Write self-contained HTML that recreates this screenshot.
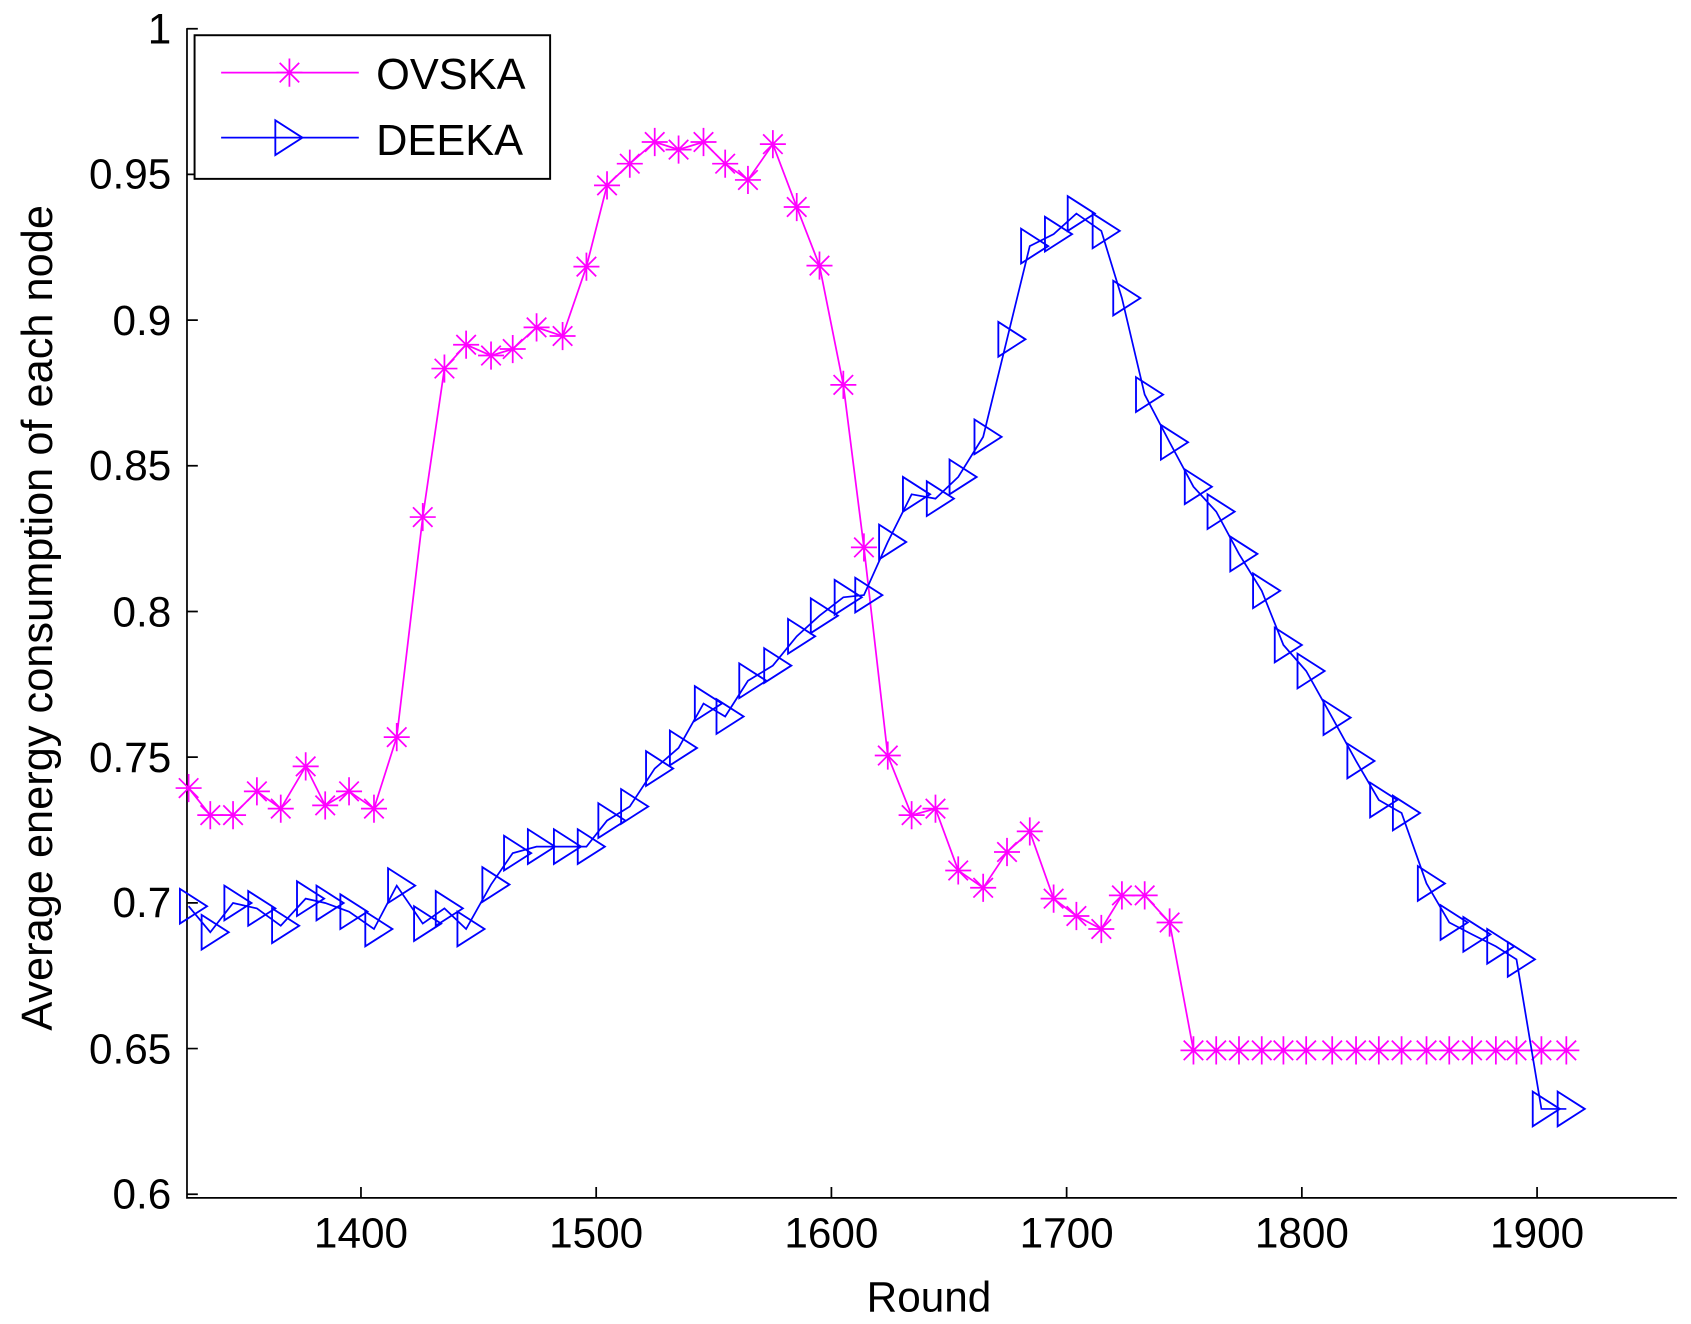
<!DOCTYPE html>
<html><head><meta charset="utf-8"><style>html,body{margin:0;padding:0;background:#fff}svg{display:block}</style></head>
<body>
<svg width="1691" height="1324" viewBox="0 0 1560 1221.4" preserveAspectRatio="none" xmlns="http://www.w3.org/2000/svg" font-family="Liberation Sans, Arial, sans-serif">
<defs>
<g id="st" stroke="#ff00ff" stroke-width="1.6" fill="none"><path d="M-12 0H12M0 -13V13M-9 -9L9 9M-9 9L9 -9"/></g>
<g id="tr" stroke="#0000ff" stroke-width="1.7" fill="none"><path d="M-8 -16L17 0L-8 16Z"/></g>
</defs>
<g stroke="#000" stroke-width="1.6" fill="none">
<path d="M172.5 26V1105H1547"/>
<path d="M172.5 26.5h10M172.5 160.9h10M172.5 295.3h10M172.5 429.7h10M172.5 564.1h10M172.5 698.5h10M172.5 832.9h10M172.5 967.3h10M172.5 1101.7h10"/>
<path d="M333 1105v-10M550 1105v-10M767 1105v-10M984 1105v-10M1201 1105v-10M1418 1105v-10"/>
</g>
<g font-size="39" fill="#000" text-anchor="end">
<text x="158" y="40">1</text><text x="158" y="174">0.95</text><text x="158" y="309">0.9</text><text x="158" y="443">0.85</text><text x="158" y="578">0.8</text><text x="158" y="712">0.75</text><text x="158" y="846">0.7</text><text x="158" y="981">0.65</text><text x="158" y="1115">0.6</text>
</g>
<g font-size="39" fill="#000" text-anchor="middle">
<text x="333" y="1151">1400</text><text x="550" y="1151">1500</text><text x="767" y="1151">1600</text><text x="984" y="1151">1700</text><text x="1201" y="1151">1800</text><text x="1418" y="1151">1900</text>
<text x="857" y="1210">Round</text>
<text transform="translate(48 570) rotate(-90)" font-size="40">Average energy consumption of each node</text>
</g>
<polyline fill="none" stroke="#ff00ff" stroke-width="1.6" points="174,727 194,752 215,752 237,730 259,746 282,707 300,743 322,730 345,746 366,680 390,477 410,340 430,318 453,328 473,322 495,302 519,310 541,246 560,171 581,151 604,131 626,138 649,131 669,151 690,166 713,133 735,191 756,245 778,355 797,505 819,697 841,752 863,746 884,803 907,819 929,786 950,767 972,829 993,845 1016,857 1035,826 1056,826 1079,851 1101,969 1445,969"/>
<g>
<use href="#st" x="174" y="727"/><use href="#st" x="194" y="752"/><use href="#st" x="215" y="752"/><use href="#st" x="237" y="730"/><use href="#st" x="259" y="746"/><use href="#st" x="282" y="707"/><use href="#st" x="300" y="743"/><use href="#st" x="322" y="730"/><use href="#st" x="345" y="746"/><use href="#st" x="366" y="680"/><use href="#st" x="390" y="477"/><use href="#st" x="410" y="340"/><use href="#st" x="430" y="318"/><use href="#st" x="453" y="328"/><use href="#st" x="473" y="322"/><use href="#st" x="495" y="302"/><use href="#st" x="519" y="310"/><use href="#st" x="541" y="246"/><use href="#st" x="560" y="171"/><use href="#st" x="581" y="151"/><use href="#st" x="604" y="131"/><use href="#st" x="626" y="138"/><use href="#st" x="649" y="131"/><use href="#st" x="669" y="151"/><use href="#st" x="690" y="166"/><use href="#st" x="713" y="133"/><use href="#st" x="735" y="191"/><use href="#st" x="756" y="245"/><use href="#st" x="778" y="355"/><use href="#st" x="797" y="505"/><use href="#st" x="819" y="697"/><use href="#st" x="841" y="752"/><use href="#st" x="863" y="746"/><use href="#st" x="884" y="803"/><use href="#st" x="907" y="819"/><use href="#st" x="929" y="786"/><use href="#st" x="950" y="767"/><use href="#st" x="972" y="829"/><use href="#st" x="993" y="845"/><use href="#st" x="1016" y="857"/><use href="#st" x="1035" y="826"/><use href="#st" x="1056" y="826"/><use href="#st" x="1079" y="851"/><use href="#st" x="1101" y="969"/><use href="#st" x="1122" y="969"/><use href="#st" x="1143" y="969"/><use href="#st" x="1164" y="969"/><use href="#st" x="1184" y="969"/><use href="#st" x="1205" y="969"/><use href="#st" x="1229" y="969"/><use href="#st" x="1251" y="969"/><use href="#st" x="1272" y="969"/><use href="#st" x="1293" y="969"/><use href="#st" x="1316" y="969"/><use href="#st" x="1337" y="969"/><use href="#st" x="1358" y="969"/><use href="#st" x="1380" y="969"/><use href="#st" x="1399" y="969"/><use href="#st" x="1422" y="969"/><use href="#st" x="1445" y="969"/>
</g>
<polyline fill="none" stroke="#0000ff" stroke-width="1.6" points="174,836 194,860 215,833 237,838 259,854 282,829 300,833 322,841 345,857 366,817 390,852 410,838 430,857 453,816 473,787 495,781 519,781 541,781 560,757 581,744 604,709 626,690 649,649 669,661 690,628 713,614 735,587 756,568 778,551 797,549 819,500 841,456 863,460 884,440 907,403 929,313 950,227 972,216 993,197 1016,213 1035,275 1056,364 1079,408 1101,449 1122,472 1143,511 1164,545 1184,595 1205,619 1229,662 1251,702 1272,738 1293,750 1316,815 1337,851 1358,862 1380,873 1399,885 1422,1023 1445,1023"/>
<g>
<use href="#tr" x="174" y="836"/><use href="#tr" x="194" y="860"/><use href="#tr" x="215" y="833"/><use href="#tr" x="237" y="838"/><use href="#tr" x="259" y="854"/><use href="#tr" x="282" y="829"/><use href="#tr" x="300" y="833"/><use href="#tr" x="322" y="841"/><use href="#tr" x="345" y="857"/><use href="#tr" x="366" y="817"/><use href="#tr" x="390" y="852"/><use href="#tr" x="410" y="838"/><use href="#tr" x="430" y="857"/><use href="#tr" x="453" y="816"/><use href="#tr" x="473" y="787"/><use href="#tr" x="495" y="781"/><use href="#tr" x="519" y="781"/><use href="#tr" x="541" y="781"/><use href="#tr" x="560" y="757"/><use href="#tr" x="581" y="744"/><use href="#tr" x="604" y="709"/><use href="#tr" x="626" y="690"/><use href="#tr" x="649" y="649"/><use href="#tr" x="669" y="661"/><use href="#tr" x="690" y="628"/><use href="#tr" x="713" y="614"/><use href="#tr" x="735" y="587"/><use href="#tr" x="756" y="568"/><use href="#tr" x="778" y="551"/><use href="#tr" x="797" y="549"/><use href="#tr" x="819" y="500"/><use href="#tr" x="841" y="456"/><use href="#tr" x="863" y="460"/><use href="#tr" x="884" y="440"/><use href="#tr" x="907" y="403"/><use href="#tr" x="929" y="313"/><use href="#tr" x="950" y="227"/><use href="#tr" x="972" y="216"/><use href="#tr" x="993" y="197"/><use href="#tr" x="1016" y="213"/><use href="#tr" x="1035" y="275"/><use href="#tr" x="1056" y="364"/><use href="#tr" x="1079" y="408"/><use href="#tr" x="1101" y="449"/><use href="#tr" x="1122" y="472"/><use href="#tr" x="1143" y="511"/><use href="#tr" x="1164" y="545"/><use href="#tr" x="1184" y="595"/><use href="#tr" x="1205" y="619"/><use href="#tr" x="1229" y="662"/><use href="#tr" x="1251" y="702"/><use href="#tr" x="1272" y="738"/><use href="#tr" x="1293" y="750"/><use href="#tr" x="1316" y="815"/><use href="#tr" x="1337" y="851"/><use href="#tr" x="1358" y="862"/><use href="#tr" x="1380" y="873"/><use href="#tr" x="1399" y="885"/><use href="#tr" x="1422" y="1023"/><use href="#tr" x="1445" y="1023"/>
</g>
<rect x="179.5" y="32.5" width="328" height="132.5" fill="#fff" stroke="#000" stroke-width="1.8"/>
<line x1="204" y1="67" x2="331" y2="67" stroke="#ff00ff" stroke-width="1.6"/>
<use href="#st" x="267" y="67"/>
<line x1="204" y1="127" x2="331" y2="127" stroke="#0000ff" stroke-width="1.6"/>
<use href="#tr" x="262" y="127"/>
<g font-size="40" fill="#000"><text x="347" y="82">OVSKA</text><text x="347" y="143">DEEKA</text></g>
</svg>
</body></html>
